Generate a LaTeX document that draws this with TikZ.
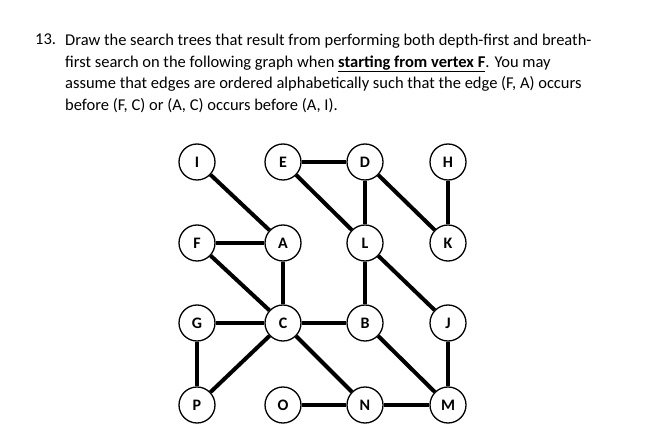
\documentclass[tikz,border=0pt]{standalone}
\usepackage{fontspec}
\setmainfont{Carlito}
\begin{document}
\begin{tikzpicture}[x=1pt,y=-1pt,
  vtx/.style={circle,draw,line width=1.3pt,minimum size=36pt,inner sep=0pt,fill=white,font=\fontsize{16}{18}\selectfont\bfseries},
  edge/.style={line width=4pt}]
\useasboundingbox (0,0) rectangle (664,446);
\node[anchor=north west,inner sep=0pt,font=\fontsize{16.5}{21.5}\selectfont] (num) at (35,34) {13.};
\node[anchor=north west,inner sep=0pt,align=left,font=\fontsize{16.5}{21.5}\selectfont] (txt) at (65,34) {Draw the search trees that result from performing both depth-first and breath-\\first search on the following graph when \textbf{\underline{starting from vertex F}}. You may\\assume that edges are ordered alphabetically such that the edge (F, A) occurs\\before (F, C) or (A, C) occurs before (A, I).};
\foreach \n/\x/\y in {I/197/162,E/283/162,D/365/162,H/448/162,F/197/243,A/283/243,L/365/243,K/448/243,G/197/323,C/283/323,B/365/323,J/448/323,P/197/405,O/283/405,N/365/405,M/448/405}
  \node[vtx] (\n) at (\x,\y) {\n};
\foreach \a/\b in {E/D,I/A,E/L,D/L,D/K,H/K,F/A,F/C,A/C,L/B,L/J,G/C,C/B,G/P,C/P,C/N,B/M,J/M,O/N,N/M}
  \draw[edge] (\a) -- (\b);
\end{tikzpicture}
\end{document}
